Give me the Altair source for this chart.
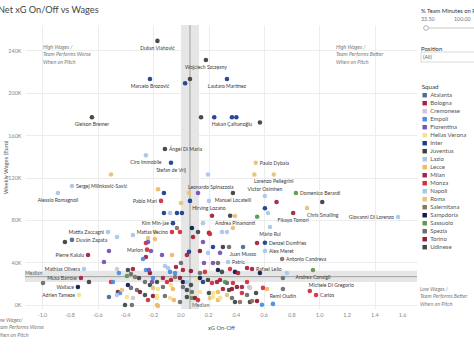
import altair as alt
import pandas as pd

teams = ["Atalanta", "Bologna", "Cremonese", "Empoli", "Fiorentina", "Hellas Verona",
         "Inter", "Juventus", "Lazio", "Lecce", "Milan", "Monza", "Napoli", "Roma",
         "Salernitana", "Sampdoria", "Sassuolo", "Spezia", "Torino", "Udinese"]
team_colors = ["#4f6d96", "#a8233f", "#d5c3d6", "#4a8fe0", "#7a52b3", "#f3e48a",
               "#1e3f8f", "#404040", "#a9c6e6", "#f2b766", "#a3263f", "#d42f3c",
               "#a7c9ee", "#e6c37a", "#8c7360", "#0f1d4d", "#5d9a4d", "#6e6e6e",
               "#8e1f35", "#3e4a4c"]

# labelled players
lab_names = ["Dušan Vlahović", "Wojciech Szczęsny", "Marcelo Brozović", "Lautaro Martínez",
             "Hakan Çalhanoğlu", "Gleison Bremer", "Ángel Di María", "Ciro Immobile",
             "Stefan de Vrij", "Paulo Dybala", "Lorenzo Pellegrini", "Sergej Milinković-Savić",
             "Alessio Romagnoli", "Pablo Marí", "Leonardo Spinazzola", "Victor Osimhen",
             "Domenico Berardi", "Manuel Locatelli", "Hirving Lozano", "Kim Min-jae",
             "Matías Vecino", "Andrea Pinamonti", "Chris Smalling", "Giovanni Di Lorenzo",
             "Fikayo Tomori", "Mattia Zaccagni", "Duván Zapata", "Pierre Kalulu",
             "Mathias Olivera", "Musa Barrow", "Wallace", "Adrien Tameze", "Marlon",
             "Mário Rui", "Denzel Dumfries", "Alex Meret", "Antonio Candreva", "Juan Musso",
             "Patric", "Rafael Leão", "Andrea Consigli", "Michele Di Gregorio", "Carlos",
             "Remi Oudin"]
lab_xg = [-0.17, 0.18, -0.224, 0.332, 0.368, -0.643, -0.116, -0.253, -0.072, 0.54, 0.67,
          -0.787, -0.888, -0.144, 0.058, 0.606, 0.83, 0.375, 0.202, -0.058, -0.065, 0.39,
          0.91, 1.567, 0.81, -0.527, -0.787, -0.671, -0.70, -0.722, -0.744, -0.736, -0.245,
          0.643, 0.606, 0.606, 0.73, 0.448, 0.34, 0.513, 0.953, 0.93, 0.975, 0.736]
lab_wage = [249, 231, 213, 213, 177, 177, 147, 141, 134, 134, 123, 112, 105.5, 98, 105.5,
            102.7, 105.5, 105.5, 98, 77, 68.7, 83.8, 91.3, 82.8, 86.6, 68.7, 61.2, 47, 33.8,
            25.3, 16.8, 9.2, 52, 73.4, 58.5, 50.8, 43.2, 54.5, 40.4, 33.8, 32.8, 13, 9.2, 14.9]
lab_squad = ["Juventus", "Juventus", "Inter", "Inter", "Inter", "Juventus", "Juventus", "Lazio",
             "Inter", "Roma", "Roma", "Lazio", "Lazio", "Monza", "Roma", "Napoli", "Sassuolo",
             "Juventus", "Napoli", "Inter", "Monza", "Roma", "Roma", "Napoli", "Milan", "Lazio",
             "Atalanta", "Milan", "Napoli", "Bologna", "Sampdoria", "Hellas Verona", "Monza",
             "Napoli", "Inter", "Napoli", "Salernitana", "Atalanta", "Lazio", "Milan",
             "Sassuolo", "Monza", "Monza", "Spezia"]
lab_place = ["b", "b", "b", "b", "b", "b", "r", "b", "b", "r", "b", "r", "b", "l", "ar", "a",
             "r", "b", "b", "l", "l", "b", "br", "l", "b", "l", "r", "l", "l", "l", "l", "l",
             "l", "b", "r", "r", "r", "b", "r", "r", "b", "ar", "r", "b"]

# other players
oth_xg = [0.03, 0.065, 0.145, 0.24, 0.40, 0.57, 0.195, 0.53, -0.505, -0.166, -0.123, 0.123,
          0.0, 0.065, 0.69, 1.02, -0.123, -0.079, -0.029, 0.007, 0.224, 0.355, 0.55, 0.606,
          0.628, -0.029, -0.007, 0.079, 0.123, 0.159, 0.202, 0.296, 0.332, 0.375, -0.238,
          -0.188, 0.087, 0.209, 0.549, 0.159, 0.231, 0.303, 0.347, -0.137, -0.065, 0.043,
          0.058, 0.137, 0.195, 0.282, 0.231, 0.267, 0.166, 0.0, -0.116, -0.094, -0.036,
          -0.079, -0.043, 0.014, 0.072, 0.137, 0.173, 0.267, 0.296, 0.354, 0.39, 0.412,
          0.477, 0.57, -0.224, -0.202, -0.173, -0.13, -0.101, -0.072, -0.043, -0.007, 0.014,
          0.043, 0.072, 0.116, 0.137, 0.159, 0.195, 0.224, 0.26, 0.282, 0.318, 0.332, 0.375,
          0.404, 0.44, 0.477, 0.491, 0.592, 0.621, -0.224, -0.202, -0.166, -0.13, -0.072,
          -0.058, 0.014, 0.043, 0.079, 0.137, 0.202, 0.231, 0.267, 0.303, 0.347, 0.368, 0.44,
          0.477, 0.498, 0.542, -0.202, -0.173, -0.116, -0.079, -0.051, -0.007, 0.043, 0.079,
          0.101, 0.123, 0.209, 0.231, 0.267, 0.282, 0.332, 0.368, 0.39, 0.426, 0.498, 0.513,
          0.549, 0.585, 0.664, -0.166, 0.765, 0.736, -0.347, -0.462, -0.253, -0.238, -0.188,
          -0.217, -0.253, -0.274, -0.52, -0.556, -0.462, -0.448, -0.383, -0.347, -0.39,
          -0.361, -0.332, -0.303, -0.253, -0.231, -0.26, -0.209, -0.505, -0.491, -0.383,
          -0.361, -0.455, -0.44, -0.462, -0.426, -0.39, -0.347, -0.318, -0.296, -0.26, -0.238,
          -0.173, -0.52, -0.404, -0.354, -0.173, -0.838, -0.664, -0.996]
oth_wage = [209, 213, 177, 177, 177, 172, 123, 123, 123, 109, 105.5, 105.5, 96, 98, 97, 97,
            86.6, 86.6, 86.6, 86.6, 84, 84, 83, 91, 86.6, 72.5, 68.7, 72.5, 68.7, 77, 67.8,
            68.7, 68.7, 72.5, 63, 68.7, 64, 66.8, 58.3, 59.3, 54.5, 54.5, 54.5, 47, 47, 47, 50,
            50.8, 49, 49, 39.4, 39.4, 39.4, 39.4, 36.6, 34.7, 35.7, 31, 30, 32.8, 31.9, 30, 31,
            32.8, 31, 33.8, 31, 30, 34.7, 30, 30, 25.3, 21.5, 25.3, 21.5, 23.4, 26.2, 25.3,
            21.5, 21.5, 18.7, 23.4, 25.3, 21.5, 23.4, 20.6, 21.5, 23.4, 21.5, 20.6, 20.6, 16.8,
            16.8, 21.5, 16.8, 15.9, 14.9, 18.7, 15.9, 14.9, 16.8, 18.7, 14.9, 16.8, 14, 12.1,
            12.1, 11.1, 11.1, 12.1, 14.9, 14, 14.9, 11.1, 9.2, 15.9, 11.1, 8.3, 6.4, 8.3, 6.4,
            4.5, 2.6, 7.4, 6.4, 6.4, 4.5, 6.4, 7.4, 4.5, 6.4, 9.2, 6.4, 2.6, 2.6, 2.6, 3.6, 3.6,
            0, 0.8, -1.1, 30, 25.3, 65.9, 64, 58.3, 59.3, 62.1, 50.8, 45.1, 43.2, 50.8, 40.4,
            33.8, 30, 32.8, 33.8, 27.2, 29.1, 26.2, 25.3, 32.8, 32.8, 21.5, 21.5, 21.5, 21.5,
            18.7, 15.9, 12.1, 11.1, 9.2, 14, 7.4, 6.4, 14, 12.1, 9.2, 4.5, 8.3, 7.4, -0.2,
            -0.2, -0.2, 59.3, 21.5, 20.6]
oth_squad = ["Inter", "Juventus", "Juventus", "Inter", "Inter", "Juventus", "Napoli", "Roma",
             "Roma", "Lecce", "Inter", "Fiorentina", "Roma", "Inter", "Milan", "Juventus",
             "Inter", "Lazio", "Inter", "Inter", "Milan", "Juventus", "Sassuolo", "Inter",
             "Napoli", "Salernitana", "Monza", "Sampdoria", "Udinese", "Napoli", "Bologna",
             "Lazio", "Napoli", "Roma", "Roma", "Roma", "Milan", "Monza", "Milan", "Fiorentina",
             "Inter", "Juventus", "Spezia", "Fiorentina", "Lecce", "Milan", "Inter", "Torino",
             "Napoli", "Fiorentina", "Fiorentina", "Spezia", "Fiorentina", "Spezia", "Napoli",
             "Lazio", "Milan", "Empoli", "Empoli", "Bologna", "Torino", "Spezia", "Monza",
             "Sampdoria", "Udinese", "Monza", "Sampdoria", "Bologna", "Milan", "Sampdoria",
             "Torino", "Empoli", "Udinese", "Milan", "Monza", "Bologna", "Salernitana", "Torino",
             "Sampdoria", "Lazio", "Udinese", "Hellas Verona", "Sampdoria", "Inter", "Juventus",
             "Monza", "Bologna", "Milan", "Sassuolo", "Spezia", "Monza", "Torino", "Bologna",
             "Monza", "Cremonese", "Monza", "Lecce", "Udinese", "Roma", "Hellas Verona",
             "Spezia", "Hellas Verona", "Lecce", "Spezia", "Udinese", "Spezia", "Hellas Verona",
             "Udinese", "Hellas Verona", "Lecce", "Bologna", "Udinese", "Torino", "Monza",
             "Spezia", "Cremonese", "Udinese", "Torino", "Hellas Verona", "Spezia",
             "Hellas Verona", "Lecce", "Spezia", "Udinese", "Sassuolo", "Torino", "Monza", "Roma",
             "Hellas Verona", "Lecce", "Hellas Verona", "Roma", "Spezia", "Udinese",
             "Salernitana", "Udinese", "Salernitana", "Torino", "Empoli", "Empoli", "Lecce",
             "Napoli", "Spezia", "Lazio", "Napoli", "Monza", "Fiorentina", "Lecce", "Fiorentina",
             "Milan", "Empoli", "Fiorentina", "Fiorentina", "Cremonese", "Empoli", "Udinese",
             "Bologna", "Sassuolo", "Spezia", "Salernitana", "Udinese", "Empoli", "Fiorentina",
             "Spezia", "Fiorentina", "Monza", "Empoli", "Sampdoria", "Spezia", "Torino", "Empoli",
             "Napoli", "Roma", "Hellas Verona", "Cremonese", "Spezia", "Torino", "Udinese",
             "Monza", "Hellas Verona", "Atalanta", "Udinese", "Spezia", "Lecce", "Juventus",
             "Juventus", "Spezia"]

x_ticks = [-1.0, -0.8, -0.6, -0.4, -0.2, 0.0, 0.2, 0.4, 0.6, 0.8, 1.0, 1.2, 1.4, 1.6]
x_tick_labels = ["-1.0", "-0.8", "-0.6", "-0.4", "-0.2", "0.0", "0.2", "0.4", "0.6", "0.8",
                 "1.0", "1.2", "1.4", "1.6"]
y_ticks = [0, 20, 40, 60, 80, 100, 120, 140, 160, 180, 200, 220, 240, 260]
median_xg = 0.065
median_band_xg = [0.0, 0.13]
median_wage = 26.5
median_band_wage = [21.5, 32.0]

W, H = 392, 284
FONT = "Lato"

players = pd.DataFrame({
    "name": lab_names + [""] * len(oth_xg),
    "xg": lab_xg + oth_xg,
    "wage": lab_wage + oth_wage,
    "squad": lab_squad + oth_squad,
    "place": lab_place + [""] * len(oth_xg),
})
labelled = players[players["name"] != ""]

xs = alt.Scale(domain=[-1.126, 1.704], nice=False, zero=False)
ys = alt.Scale(domain=[-4, 264], nice=False, zero=False)
x_enc = alt.X("xg:Q", scale=xs, axis=alt.Axis(
    values=x_ticks, format=".1f", title="xG On-Off", grid=True, gridColor="#ededed",
    domain=False, ticks=False, labels=False,
    titleFontSize=5.8, titleFontWeight="normal", titleColor="#555", titleY=18,
    titleBaseline="middle"))
y_enc = alt.Y("wage:Q", scale=ys, axis=alt.Axis(
    values=y_ticks, labelExpr="datum.value + 'K'", title="Weekly Wages (Euro)", grid=True,
    gridColor="#ededed", domain=False, ticks=False, labelPadding=4, labelFontSize=5.5,
    labelColor="#8a8a8a", labelOverlap=False, labelFlush=False,
    titleFontSize=5.8, titleFontWeight="normal", titleColor="#555",
    titleX=-20, titleY=H / 2, titleBaseline="middle"))

# x tick labels drawn as text through the x scale
xlab = alt.Chart(pd.DataFrame({"v": x_ticks, "t": x_tick_labels})).mark_text(
    baseline="middle", align="center", fontSize=5.5, color="#8a8a8a", font=FONT).encode(
    x=alt.X("v:Q", scale=xs), y=alt.value(H + 6), text="t:N")

band_x = alt.Chart(pd.DataFrame({"x0": [median_band_xg[0]], "x1": [median_band_xg[1]]})).mark_rect(
    color="#e6e6e6").encode(x=alt.X("x0:Q", scale=xs), x2="x1:Q", y=alt.value(0), y2=alt.value(H))
band_y = alt.Chart(pd.DataFrame({"y0": [median_band_wage[0]], "y1": [median_band_wage[1]]})).mark_rect(
    color="#e6e6e6").encode(y=alt.Y("y0:Q", scale=ys), y2="y1:Q", x=alt.value(0), x2=alt.value(W))
med_v = alt.Chart(pd.DataFrame({"m": [median_xg]})).mark_rule(color="#a0a0a0", strokeWidth=1).encode(
    x=alt.X("m:Q", scale=xs), y=alt.value(0), y2=alt.value(H))
med_h = alt.Chart(pd.DataFrame({"m": [median_wage]})).mark_rule(color="#a0a0a0", strokeWidth=1).encode(
    y=alt.Y("m:Q", scale=ys), x=alt.value(0), x2=alt.value(W))
med_h_lab = alt.Chart(pd.DataFrame({"m": [median_wage], "t": ["Median"]})).mark_text(
    align="left", baseline="middle", dy=-4, fontSize=5.3, color="#666", font=FONT).encode(
    y=alt.Y("m:Q", scale=ys), x=alt.value(0), text="t:N")
med_v_lab = alt.Chart(pd.DataFrame({"m": [median_xg], "t": ["Median"]})).mark_text(
    align="left", baseline="middle", dx=2, fontSize=5.3, color="#666", font=FONT).encode(
    x=alt.X("m:Q", scale=xs), y=alt.value(280), text="t:N")

points = alt.Chart(players).mark_circle(size=21, opacity=0.95).encode(
    x=x_enc, y=y_enc,
    color=alt.Color("squad:N", scale=alt.Scale(domain=teams, range=team_colors),
                    legend=alt.Legend(title="Squad", orient="none", legendX=396.7, legendY=58.7,
                                      symbolType="square", symbolSize=20, symbolStrokeWidth=0,
                                      labelFontSize=6, titleFontSize=6.2, titleFontWeight="normal",
                                      titlePadding=2.3, rowPadding=2, padding=0, labelOffset=2.5,
                                      labelColor="#555", titleColor="#333", symbolOpacity=1)))

placements = {
    "b": dict(align="center", dx=0, dy=7),
    "a": dict(align="center", dx=0, dy=-7),
    "r": dict(align="left", dx=4, dy=0),
    "l": dict(align="right", dx=-4, dy=0),
    "ar": dict(align="left", dx=-1, dy=-6),
    "br": dict(align="left", dx=0, dy=7),
}
label_layers = []
for code, p in placements.items():
    label_layers.append(
        alt.Chart(labelled).transform_filter(alt.datum.place == code).mark_text(
            baseline="middle", fontSize=5.1, color="#3a3a3a", font=FONT, **p).encode(
            x=alt.X("xg:Q", scale=xs), y=alt.Y("wage:Q", scale=ys), text="name:N"))

def note(txt, px, py, **kw):
    d = dict(align="left", baseline="top", fontSize=5.3, color="#7a7a7a", font=FONT,
             lineBreak="\n", lineHeight=7.5)
    d.update(kw)
    return alt.Chart(pd.DataFrame({"t": [txt]})).mark_text(**d).encode(
        x=alt.value(px), y=alt.value(py), text="t:N")

notes = [
    note("Net xG On/Off vs Wages", -27, -15, fontSize=9.2, color="#444", baseline="middle"),
    note("High Wages /\nTeam Performs Worse\nWhen on Pitch", 18, 19.5, fontStyle="italic"),
    note("High Wages /\nTeam Performs Better\nWhen on Pitch", 311, 19.5, fontStyle="italic"),
    note("Low Wages /\nTeam Performs Better\nWhen on Pitch", 395, 261.5, fontStyle="italic"),
    note("Low Wages/\nTeam Performs Worse\nWhen on Pitch", -29, 292.5, fontStyle="italic"),
    note("% Team Minutes on Pitch", 396, -14, baseline="middle", fontSize=5.8, color="#333"),
    note("33.50", 396, -6, baseline="middle", color="#777"),
    note("100.00", 429, -6, baseline="middle", color="#777"),
    note("Position", 396, 24, baseline="middle", fontSize=6, color="#333"),
    note("(All)", 398, 32, baseline="middle", color="#666"),
]
slider_line = alt.Chart(pd.DataFrame({"a": [0]})).mark_rule(color="#c8c8c8", strokeWidth=1).encode(
    x=alt.value(401), x2=alt.value(455), y=alt.value(3))
slider_knob = alt.Chart(pd.DataFrame({"a": [0]})).mark_point(
    filled=True, fill="white", stroke="#999", strokeWidth=0.8, size=22, shape="circle", opacity=1).encode(
    x=alt.value(401), y=alt.value(3))
dropdown = alt.Chart(pd.DataFrame({"a": [0]})).mark_rect(
    fill="white", stroke="#cfcfcf", strokeWidth=0.8).encode(
    x=alt.value(396), x2=alt.value(455), y=alt.value(27), y2=alt.value(37))

chart = alt.layer(
    band_x, band_y, med_v, med_h, points, *label_layers, med_h_lab, med_v_lab, xlab,
    dropdown, slider_line, slider_knob, *notes
).properties(
    width=W, height=H,
    padding={"left": 25, "top": 25, "right": 57, "bottom": 46},
    autosize=alt.AutoSizeParams(type="none"),
).configure(font=FONT).configure_view(stroke=None)

chart.save("out.html", embed_options={"renderer": "svg", "actions": False})
